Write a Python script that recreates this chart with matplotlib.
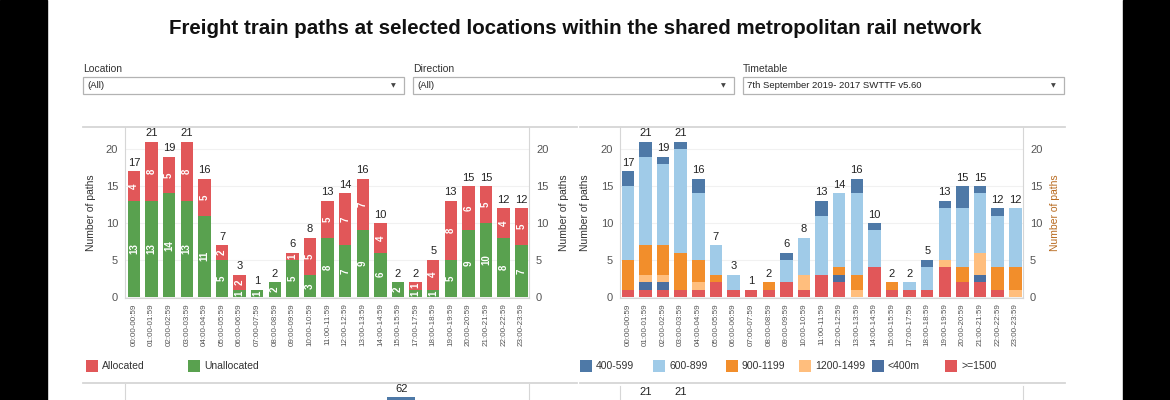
import matplotlib
matplotlib.use('Agg')
import matplotlib.pyplot as plt
from matplotlib.patches import Rectangle
from matplotlib.lines import Line2D

plt.rcParams['font.family'] = ['Liberation Sans', 'DejaVu Sans']

# hour slots shown (16:00 has no freight paths, so it is absent)
slots = ['00:00-00:59', '01:00-01:59', '02:00-02:59', '03:00-03:59', '04:00-04:59',
         '05:00-05:59', '06:00-06:59', '07:00-07:59', '08:00-08:59', '09:00-09:59',
         '10:00-10:59', '11:00-11:59', '12:00-12:59', '13:00-13:59', '14:00-14:59',
         '15:00-15:59', '17:00-17:59', '18:00-18:59', '19:00-19:59', '20:00-20:59',
         '21:00-21:59', '22:00-22:59', '23:00-23:59']

# left chart: allocation status
unallocated = [13, 13, 14, 13, 11, 5, 1, 1, 2, 5, 3, 8, 7, 9, 6, 2, 1, 1, 5, 9, 10, 8, 7]
allocated = [4, 8, 5, 8, 5, 2, 2, 0, 0, 1, 5, 5, 7, 7, 4, 0, 1, 4, 8, 6, 5, 4, 5]

# right chart: train length bands (stacked bottom to top)
len_ge1500 = [1, 1, 1, 1, 1, 2, 1, 1, 1, 2, 1, 3, 2, 0, 4, 1, 1, 1, 4, 2, 2, 1, 0]
len_lt400 = [0, 1, 1, 0, 0, 0, 0, 0, 0, 0, 0, 0, 1, 0, 0, 0, 0, 0, 0, 0, 1, 0, 0]
len_1200 = [0, 1, 1, 0, 1, 0, 0, 0, 0, 0, 2, 0, 0, 1, 0, 0, 0, 0, 1, 0, 3, 0, 1]
len_900 = [4, 4, 4, 5, 3, 1, 0, 0, 1, 0, 0, 0, 1, 2, 0, 1, 0, 0, 0, 2, 0, 3, 3]
len_600 = [10, 12, 11, 14, 9, 4, 2, 0, 0, 3, 5, 8, 10, 11, 5, 0, 1, 3, 7, 8, 8, 7, 8]
len_400 = [2, 2, 1, 1, 2, 0, 0, 0, 0, 1, 0, 2, 0, 2, 1, 0, 0, 1, 1, 3, 1, 1, 0]

# partly visible charts below the fold
lower_left_vals = [62]
lower_right_idx = [1, 3]
lower_right_vals = [21, 21]

title = 'Freight train paths at selected locations within the shared metropolitan rail network'
filters = [('Location', '(All)'), ('Direction', '(All)'),
           ('Timetable', '7th September 2019- 2017 SWTTF v5.60')]

RED, GREEN = '#E15759', '#59A14F'
len_series = [('>=1500', len_ge1500, '#E15759'), ('<400m', len_lt400, '#4A6FA0'),
              ('1200-1499', len_1200, '#FFBE7D'), ('900-1199', len_900, '#F28E2B'),
              ('600-899', len_600, '#A0CBE8'), ('400-599', len_400, '#4E79A7')]
len_legend_order = ['400-599', '600-899', '900-1199', '1200-1499', '<400m', '>=1500']

W, H = 1170, 400
fig = plt.figure(figsize=(11.7, 4.0), dpi=100)
fig.patch.set_facecolor('white')


def fx(x):
    return x / W


def fy(y):
    return 1 - y / H


def px_axes(x0, y0, x1, y1):
    return fig.add_axes([fx(x0), fy(y1), fx(x1 - x0), (y1 - y0) / H])


GRID = '#d6d6d6'

# black side bands
fig.add_artist(Rectangle((0, 0), fx(47), 1, transform=fig.transFigure, color='black', zorder=10))
fig.add_artist(Rectangle((fx(1123), 0), 1, 1, transform=fig.transFigure, color='black', zorder=10))

fig.text(fx(575), fy(28), title, ha='center', va='center', fontsize=14.8, fontweight='bold', color='#111')

# filter boxes
for i, (lab, val) in enumerate(filters):
    x0 = 83 + i * 330
    fig.text(fx(x0), fy(69), lab, ha='left', va='center', fontsize=7.5, color='#333')
    fig.add_artist(Rectangle((fx(x0), fy(94)), fx(321), 17 / H, transform=fig.transFigure,
                             facecolor='white', edgecolor='#b3b3b3', lw=0.9))
    fig.text(fx(x0 + 4), fy(86), val, ha='left', va='center', fontsize=6.8, color='#222')
    fig.text(fx(x0 + 310), fy(86), '\u25bc', ha='center', va='center', fontsize=4.5,
             color='#444', family='DejaVu Sans')

# panel separator lines
for yy in (127, 383):
    for xa, xb in ((83, 577), (580, 1065)):
        fig.add_artist(Line2D([fx(xa), fx(xb)], [fy(yy), fy(yy)], transform=fig.transFigure,
                              color=GRID, lw=1.3))

x = list(range(len(slots)))


def style_axes(ax, xlim, ylab_color='#333'):
    ax.set_xlim(*xlim)
    ax.set_ylim(-0.15, 23)
    ax.set_yticks([0, 5, 10, 15, 20])
    ax.set_xticks(x)
    ax.set_xticklabels(slots, rotation=90, fontsize=5.8, color='#666')
    ax.tick_params(length=0, pad=5, labelsize=8, labelcolor='#555')
    ax.tick_params(axis='x', pad=4, labelsize=5.8)
    for s in ('left', 'right', 'bottom'):
        ax.spines[s].set_color(GRID)
    ax.spines['top'].set_visible(False)
    ax.grid(axis='y', color='#f1f1f1', lw=0.8)
    ax.set_axisbelow(True)
    ax.set_ylabel('Number of paths', fontsize=7.5, color='#333')
    tw = ax.twinx()
    tw.set_ylim(ax.get_ylim())
    tw.set_yticks([0, 5, 10, 15, 20])
    tw.tick_params(length=0, pad=5, labelsize=8, labelcolor='#555')
    for s in tw.spines.values():
        s.set_visible(False)
    tw.set_ylabel('Number of paths', fontsize=7.5, color=ylab_color, rotation=90)
    return tw


# left chart
axL = px_axes(125, 127, 529, 298)
twL = style_axes(axL, (-0.51, 22.44))
axL.yaxis.set_label_coords(-0.072, 0.5)
twL.yaxis.set_label_coords(1.075, 0.5)
bw = 0.71
axL.bar(x, unallocated, width=bw, color=GREEN)
axL.bar(x, allocated, width=bw, bottom=unallocated, color=RED)
for i in x:
    u, a = unallocated[i], allocated[i]
    if u:
        axL.text(i, u / 2, str(u), rotation=90, ha='center', va='center', fontsize=7,
                 fontweight='bold', color='white')
    if a:
        axL.text(i, u + a / 2, str(a), rotation=90, ha='center', va='center', fontsize=7,
                 fontweight='bold', color='white')
    axL.annotate(str(u + a), (i, u + a), xytext=(0, 2.5), textcoords='offset points',
                 ha='center', va='bottom', fontsize=8, color='#222')

# right chart
axR = px_axes(620, 127, 1023, 298)
twR = style_axes(axR, (-0.45, 22.44), ylab_color='#b86a1f')
axR.yaxis.set_label_coords(-0.074, 0.5)
twR.yaxis.set_label_coords(1.067, 0.5)
base = [0] * len(x)
for name, vals, col in len_series:
    axR.bar(x, vals, width=bw, bottom=base, color=col)
    base = [b + v for b, v in zip(base, vals)]
for i in x:
    axR.annotate(str(base[i]), (i, base[i]), xytext=(0, 2.5), textcoords='offset points',
                 ha='center', va='bottom', fontsize=8, color='#222')

# legends
def legend_row(items, x0, step, y=366):
    for j, (lab, col) in enumerate(items):
        xx = x0 + j * step
        fig.add_artist(Rectangle((fx(xx), fy(y + 6)), fx(12), 12 / H, transform=fig.transFigure,
                                 facecolor=col, edgecolor='none'))
        fig.text(fx(xx + 16), fy(y), lab, ha='left', va='center', fontsize=7.5, color='#333')


legend_row([('Allocated', RED), ('Unallocated', GREEN)], 86, 102)
colmap = {n: c for n, v, c in len_series}
legend_row([(n, colmap[n]) for n in len_legend_order], 580, 73)

# lower charts, cut off by the image edge
axLL = px_axes(125, 384, 529, 784)
axLL.set_xlim(-0.86, 10.64)
axLL.set_ylim(0, 64)
axLL.bar([7], lower_left_vals, width=0.8, color='#4E79A7')
axLL.annotate(str(lower_left_vals[0]), (7, lower_left_vals[0]), xytext=(0, 2),
              textcoords='offset points', ha='center', va='bottom', fontsize=8, color='#222')

axLR = px_axes(620, 386, 1023, 557)
axLR.set_xlim(-0.45, 22.44)
axLR.set_ylim(-0.15, 23)
axLR.bar(lower_right_idx, lower_right_vals, width=bw, color='#A0CBE8')
for i, v in zip(lower_right_idx, lower_right_vals):
    axLR.annotate(str(v), (i, v), xytext=(0, 2.5), textcoords='offset points',
                  ha='center', va='bottom', fontsize=8, color='#222')

for ax in (axLL, axLR):
    ax.set_xticks([])
    ax.set_yticks([])
    ax.spines['top'].set_visible(False)
    ax.spines['bottom'].set_visible(False)
    ax.spines['left'].set_color(GRID)
    ax.spines['right'].set_color(GRID)

fig.savefig('out.png', dpi=100, facecolor='white')
